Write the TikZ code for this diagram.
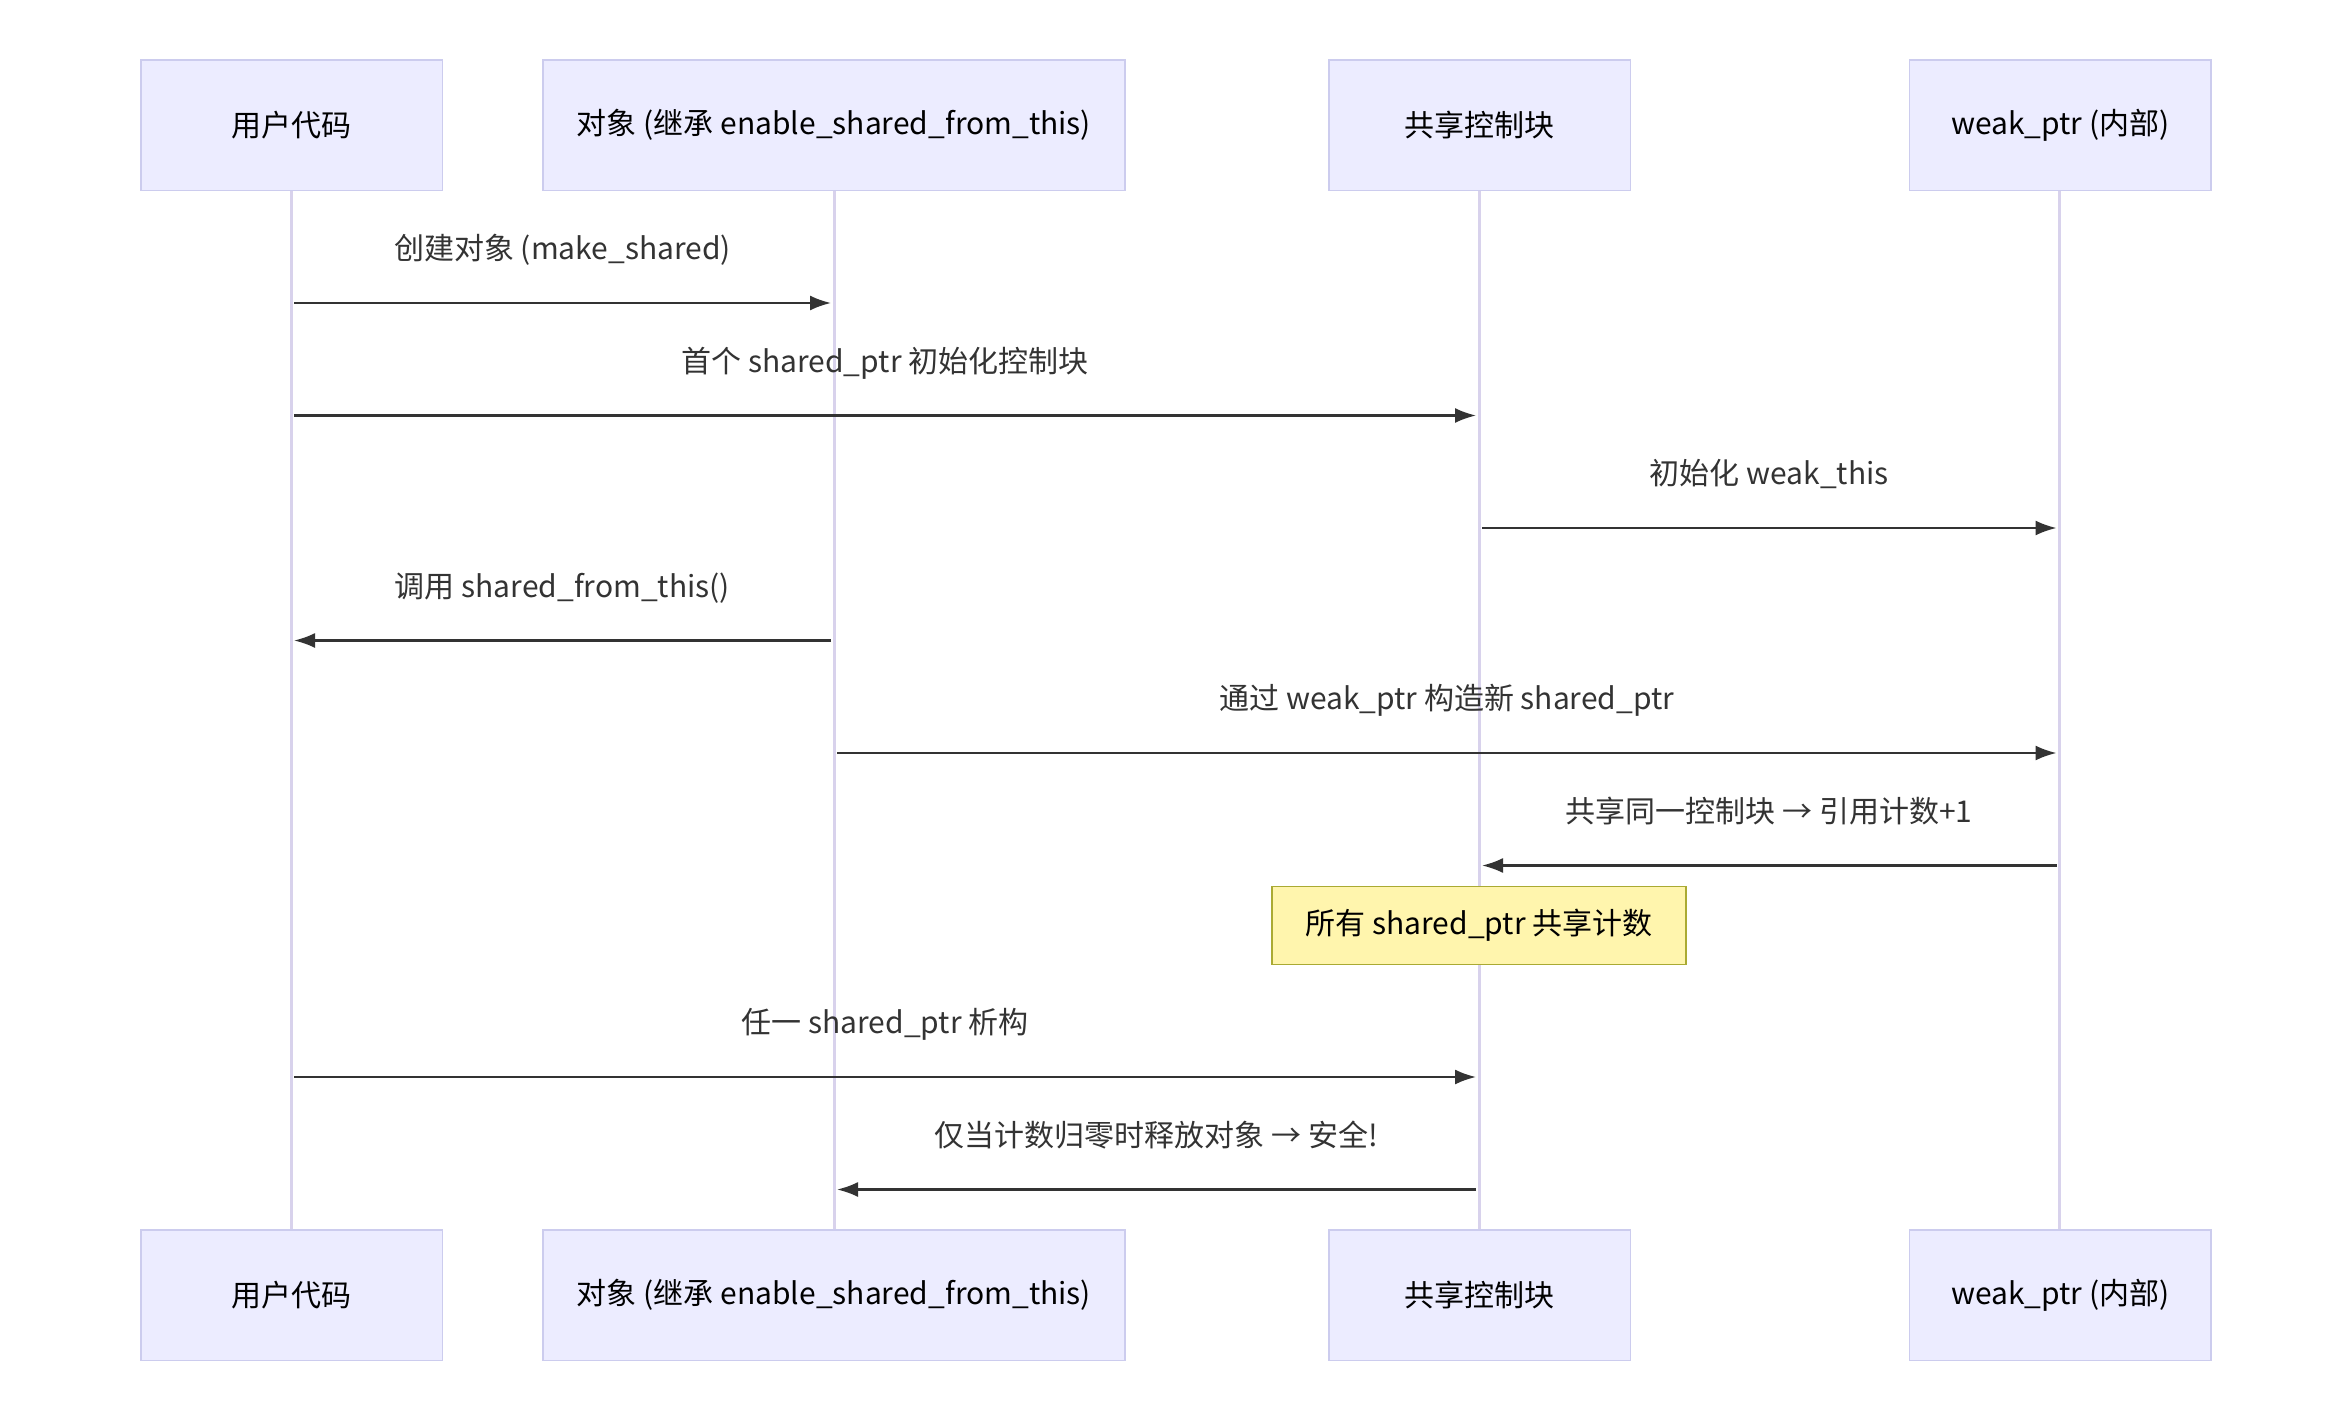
\documentclass[tikz,border=0pt]{standalone}
\usepackage{fontspec}
\setmainfont{Noto Sans CJK SC}
\usetikzlibrary{arrows.meta}
\definecolor{boxfill}{HTML}{ECECFF}
\definecolor{boxline}{HTML}{CCCCEE}
\definecolor{life}{HTML}{D8D2EC}
\definecolor{notefill}{HTML}{FFF5AD}
\definecolor{noteline}{HTML}{AAAA33}
\definecolor{msg}{HTML}{333333}
\begin{document}
\begin{tikzpicture}[x=1pt,y=-1pt,
  actor/.style={draw=boxline,fill=boxfill,line width=1pt,inner sep=0pt,font=\fontsize{20}{24}\selectfont,text=black},
  lab/.style={font=\fontsize{20}{24}\selectfont,text=msg,anchor=base},
  m/.style={draw=msg,line width=1.5pt,-{Latex[length=14pt,width=10pt]}},
  lifeline/.style={draw=life,line width=2pt}]
\useasboundingbox (0,0) rectangle (1560,944);
\fill[white] (0,0) rectangle (1560,944);
% lifelines
\foreach \n/\x in {a/194,b/556,c/986,d/1373}{
  \coordinate (\n) at (\x,0);
  \draw[lifeline] (\x,127) -- (\x,820);
}
\foreach \t/\b in {40/top,820/bot}{
 \node[actor,minimum width=201pt,minimum height=87pt] (a\b) at (194.5,\t+43.5) {用户代码};
 \node[actor,minimum width=388pt,minimum height=87pt] (b\b) at (556,\t+43.5) {对象 (继承 enable\_shared\_from\_this)};
 \node[actor,minimum width=201pt,minimum height=87pt] (c\b) at (986.5,\t+43.5) {共享控制块};
 \node[actor,minimum width=201pt,minimum height=87pt] (d\b) at (1373.5,\t+43.5) {weak\_ptr (内部)};
}
\newcommand{\msgline}[5]{% from x, to x, y, label
  \coordinate (s#5) at (#1,#3); \coordinate (e#5) at (#2,#3);
  \draw[m] (s#5) -- (e#5);
  \node[lab] at ({(#1+#2)/2},#3-29) {#4};}
\msgline{196}{554}{202}{创建对象 (make\_shared)}{1}
\msgline{196}{984}{277}{首个 shared\_ptr 初始化控制块}{2}
\msgline{988}{1371}{352}{初始化 weak\_this}{3}
\msgline{554}{196}{427}{调用 shared\_from\_this()}{4}
\msgline{558}{1371}{502}{通过 weak\_ptr 构造新 shared\_ptr}{5}
\msgline{1371}{988}{577}{共享同一控制块 → 引用计数+1}{6}
\node[draw=noteline,fill=notefill,line width=1pt,minimum width=276pt,minimum height=52pt,font=\fontsize{20}{24}\selectfont] (note) at (986,617) {所有 shared\_ptr 共享计数};
\msgline{196}{984}{718}{任一 shared\_ptr 析构}{7}
\msgline{984}{558}{793}{仅当计数归零时释放对象 → 安全!}{8}
\end{tikzpicture}
\end{document}
